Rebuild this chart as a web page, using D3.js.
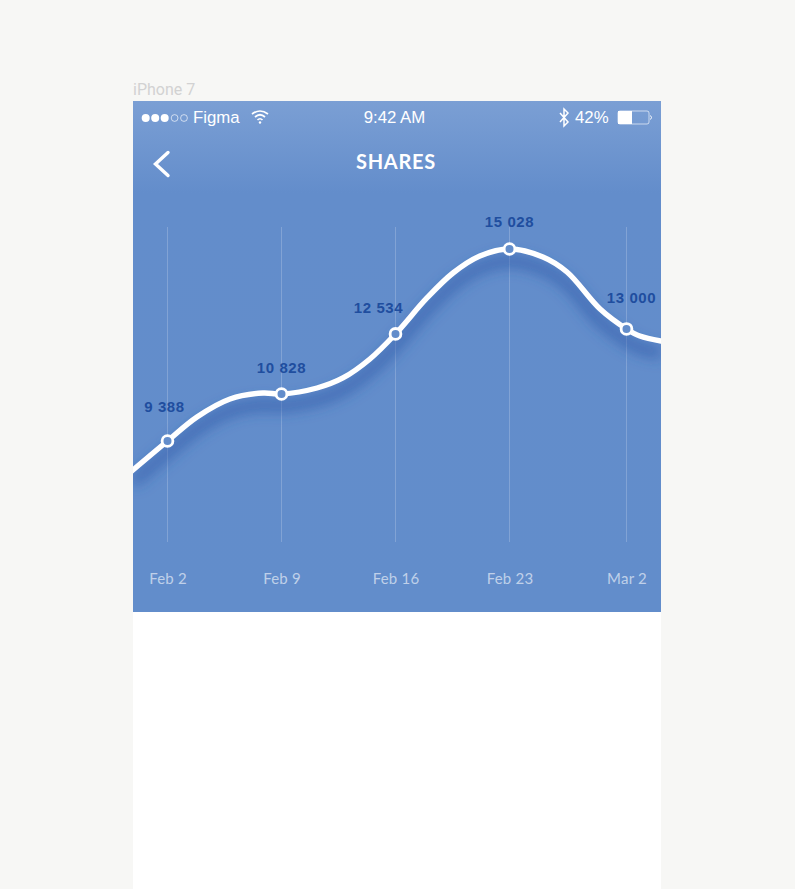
<!DOCTYPE html>
<html>
<head>
<meta charset="utf-8">
<script src="https://cdn.jsdelivr.net/npm/d3@7"></script>
<style>
  html, body { margin: 0; padding: 0; background: #f7f7f5; }
  svg { display: block; }
</style>
</head>
<body>
<svg id="chart" width="795" height="889"></svg>
<script>
// days since Feb 2 for each tick, and the labels printed on the chart
let tickDays = [0, 7, 14, 21, 28];
let tickLabels = ["Feb 2", "Feb 9", "Feb 16", "Feb 23", "Mar 2"];
let shareLabels = ["9 388", "10 828", "12 534", "15 028", "13 000"];
let pointValues = [9388, 10770, 12534, 15028, 12680];

// the line as drawn (it runs off both edges of the screen)
let lineDays = [-2.12, 0, 1.81, 3.84, 5.86, 7, 9.18, 10.77, 12.43, 14, 15.93, 17.53, 19.18, 21, 23, 24.44, 26.42, 28, 28.8, 30.07];
let lineValues = [8536, 9388, 10093, 10622, 10798, 10770, 10945, 11239, 11797, 12534, 13589, 14323, 14822, 15028, 14793, 14352, 13265, 12680, 12472, 12325];

// label nudges relative to their point
let labelDx = [-3, 0, -17, 0, 5];
let labelDy = [-29, -21, -21, -22, -26];

let screen = { left: 133, right: 661, top: 101, bottom: 612 };
let gridTop = 227;
let gridBottom = 542;

let svg = d3.select("#chart");

// the last column sits a little wider than the others in the mockup
let scaleX = d3.scaleLinear().domain([0, 21, 28]).range([167.5, 509.5, 626.5]);
let scaleY = d3.scaleLinear().domain([9388, 15028]).range([441, 249]);

let defs = svg.append("defs");

let grad = defs.append("linearGradient")
    .attr("id", "bg").attr("x1", 0).attr("y1", 0).attr("x2", 0).attr("y2", 1);
grad.append("stop").attr("offset", "0%").attr("stop-color", "#7b9fd4");
grad.append("stop").attr("offset", "18%").attr("stop-color", "#638dcb");
grad.append("stop").attr("offset", "100%").attr("stop-color", "#628dcb");

defs.append("filter").attr("id", "shadow")
    .attr("x", "-10%").attr("y", "-30%").attr("width", "120%").attr("height", "160%")
    .append("feGaussianBlur").attr("stdDeviation", 7);

defs.append("clipPath").attr("id", "screen")
    .append("rect")
    .attr("x", screen.left).attr("y", screen.top)
    .attr("width", screen.right - screen.left).attr("height", screen.bottom - screen.top);

// frame
svg.append("rect")
    .attr("x", screen.left).attr("y", screen.bottom)
    .attr("width", screen.right - screen.left).attr("height", 889 - screen.bottom)
    .attr("fill", "#ffffff");
svg.append("rect")
    .attr("x", screen.left).attr("y", screen.top)
    .attr("width", screen.right - screen.left).attr("height", screen.bottom - screen.top)
    .attr("fill", "url(#bg)");
svg.append("text")
    .text("iPhone 7")
    .attr("x", screen.left).attr("y", 95)
    .attr("font-family", "Roboto")
    .attr("font-size", 16)
    .attr("fill", "#d2d2d2");

drawStatusBar();
drawHeader();

// grid
svg.selectAll(".grid").data(tickDays).enter()
    .append("line")
    .attr("class", "grid")
    .attr("x1", d => scaleX(d))
    .attr("x2", d => scaleX(d))
    .attr("y1", gridTop)
    .attr("y2", gridBottom)
    .attr("stroke", "#ffffff")
    .attr("stroke-opacity", 0.2)
    .attr("stroke-width", 1);

// x labels, axis line and ticks hidden
let axis = svg.append("g")
    .attr("transform", "translate(0,584)")
    .call(d3.axisBottom(scaleX)
        .tickValues(tickDays)
        .tickFormat((d, i) => tickLabels[i])
        .tickSize(0)
        .tickPadding(0));
axis.select(".domain").remove();
axis.selectAll("text")
    .attr("y", 0)
    .attr("dy", 0)
    .attr("font-family", "Lato")
    .attr("font-size", 15)
    .attr("letter-spacing", 0.2)
    .attr("fill", "#ffffff")
    .attr("fill-opacity", 0.6);

// curve
let line = d3.line()
    .x((d, i) => scaleX(lineDays[i]))
    .y(d => scaleY(d))
    .curve(d3.curveCatmullRom.alpha(0.5));

let plot = svg.append("g").attr("clip-path", "url(#screen)");

plot.append("path")
    .attr("d", line(lineValues))
    .attr("transform", "translate(0,12)")
    .attr("fill", "none")
    .attr("stroke", "#2f5aa8")
    .attr("stroke-opacity", 0.75)
    .attr("stroke-width", 10)
    .attr("filter", "url(#shadow)");

plot.append("path")
    .attr("d", line(lineValues))
    .attr("fill", "none")
    .attr("stroke", "#ffffff")
    .attr("stroke-linecap", "square")
    .attr("stroke-width", 5.4);

plot.selectAll(".point").data(pointValues).enter()
    .append("circle")
    .attr("class", "point")
    .attr("cx", (d, i) => scaleX(tickDays[i]))
    .attr("cy", d => scaleY(d))
    .attr("r", 5.4)
    .attr("fill", "#638dcb")
    .attr("stroke", "#ffffff")
    .attr("stroke-width", 2.8);

svg.selectAll(".share").data(pointValues).enter()
    .append("text")
    .attr("class", "share")
    .text((d, i) => shareLabels[i])
    .attr("x", (d, i) => scaleX(tickDays[i]) + labelDx[i])
    .attr("y", (d, i) => scaleY(d) + labelDy[i])
    .attr("text-anchor", "middle")
    .attr("font-family", "Liberation Sans")
    .attr("font-weight", "bold")
    .attr("font-size", 15)
    .attr("letter-spacing", 0.6)
    .attr("fill", "#1f4e9f");

function drawStatusBar() {
    let bar = svg.append("g");
    let white = "#ffffff";

    // signal dots
    [145.7, 155.2, 164.7].forEach(x => {
        bar.append("circle").attr("cx", x).attr("cy", 118).attr("r", 4).attr("fill", white);
    });
    [174.6, 184].forEach(x => {
        bar.append("circle").attr("cx", x).attr("cy", 118).attr("r", 3.4)
            .attr("fill", "none").attr("stroke", white).attr("stroke-opacity", 0.8).attr("stroke-width", 0.8);
    });

    statusText(bar, "Figma", 193, 123, "start");
    statusText(bar, "9:42 AM", 394.5, 123, "middle");
    statusText(bar, "42%", 575, 123, "start");

    // wifi
    let wifi = bar.append("g").attr("transform", "translate(260,119)")
        .attr("fill", "none").attr("stroke", white).attr("stroke-width", 1.7);
    wifi.append("path").attr("d", "M-8,-5 Q0,-11 8,-5");
    wifi.append("path").attr("d", "M-5,-2 Q0,-6.5 5,-2");
    wifi.append("path").attr("d", "M-2.5,1 Q0,-1.5 2.5,1");
    wifi.append("circle").attr("cx", 0).attr("cy", 3.5).attr("r", 1.2).attr("fill", white).attr("stroke", "none");

    // bluetooth
    bar.append("path")
        .attr("d", "M560,113 L568,122 L564,126 L564,109 L568,113 L560,122")
        .attr("fill", "none").attr("stroke", white).attr("stroke-width", 1.5);

    // battery
    bar.append("rect").attr("x", 618).attr("y", 111).attr("width", 31).attr("height", 13).attr("rx", 2)
        .attr("fill", "none").attr("stroke", white).attr("stroke-width", 0.9).attr("stroke-opacity", 0.7);
    bar.append("rect").attr("x", 618).attr("y", 111).attr("width", 14).attr("height", 13).attr("fill", white);
    bar.append("path").attr("d", "M650.5,115.5 Q652.5,117.5 650.5,119.5").attr("fill", "none")
        .attr("stroke", white).attr("stroke-width", 1);
}

function statusText(g, str, x, y, anchor) {
    g.append("text")
        .text(str)
        .attr("x", x).attr("y", y)
        .attr("text-anchor", anchor)
        .attr("font-family", "Liberation Sans")
        .attr("font-size", 16.8)
        .attr("fill", "#ffffff");
}

function drawHeader() {
    svg.append("path")
        .attr("d", "M168,152.5 L155.5,164 L168,175.5")
        .attr("fill", "none")
        .attr("stroke", "#ffffff")
        .attr("stroke-linecap", "round")
        .attr("stroke-width", 3.4);
    svg.append("text")
        .text("SHARES")
        .attr("x", 396).attr("y", 169)
        .attr("text-anchor", "middle")
        .attr("font-family", "Lato")
        .attr("font-weight", "bold")
        .attr("font-size", 20)
        .attr("letter-spacing", 0.7)
        .attr("fill", "#ffffff");
}
</script>
</body>
</html>
